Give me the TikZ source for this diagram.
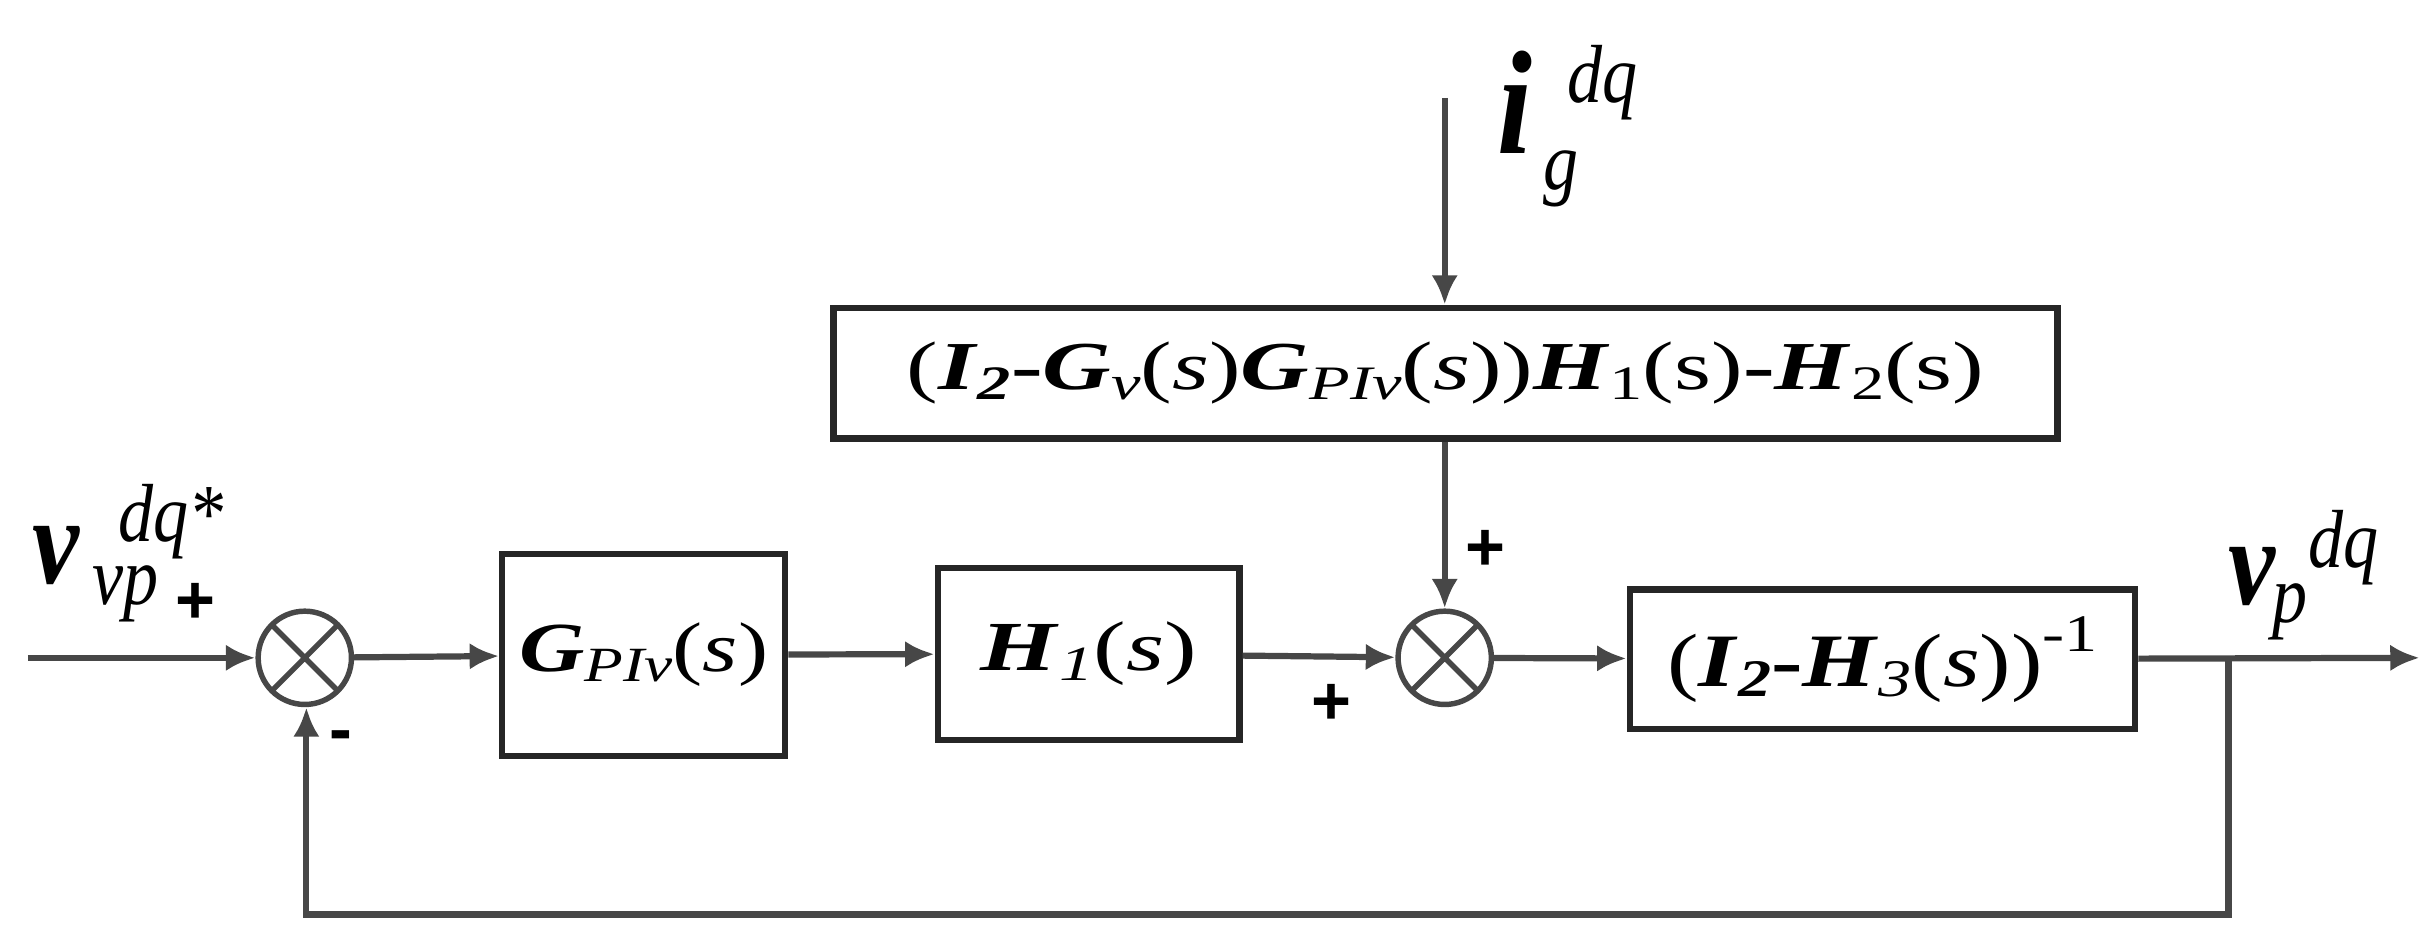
\documentclass[tikz,border=0pt]{standalone}
\usepackage{fontspec}
\setmainfont{Liberation Serif}
\newfontfamily\sansb{Liberation Sans}
\usetikzlibrary{arrows.meta}
\newcommand\lo[1]{\raisebox{-0.3ex}{\fontsize{28}{30}\selectfont #1}}
\newcommand\hi[1]{\raisebox{1.0ex}{\fontsize{28}{30}\selectfont #1}}
\newcommand\bi[1]{\textbf{\textit{#1}}}
\newcommand\nar[1]{\scalebox{0.85}[1]{#1}}
\begin{document}
\begin{tikzpicture}[x=1pt,y=-1pt,
  ln/.style={draw=black!72,line width=4pt},
  arr/.style={ln,-{Latex[length=19pt,width=17pt]}},
  blk/.style={draw=black!85,line width=4pt,inner sep=0pt,font=\fontsize{40}{44}\selectfont},
  sumnode/.style={circle,draw=black!72,line width=3.5pt,minimum size=60pt,inner sep=0pt,
    path picture={\draw[line width=3.5pt,black!72] ([shift={(-4,-4)}]path picture bounding box.center)++(-18,-18)--++(44,44) ([shift={(4,-4)}]path picture bounding box.center)++(18,-18)--++(-44,44);}},
  sgn/.style={font=\sansb\bfseries\fontsize{44}{46}\selectfont,inner sep=0pt},
  big/.style={font=\bfseries\itshape\fontsize{80}{82}\selectfont,inner sep=0pt,anchor=base west},
  sm/.style={font=\itshape\fontsize{53}{55}\selectfont,inner sep=0pt,anchor=base west}]
\useasboundingbox (0,0) rectangle (1560,604);
\node[sumnode] (s1) at (196,423) {};
\node[sumnode] (s2) at (929,423) {};
\node[blk,minimum width=182pt,minimum height=130pt] (g) at (414,421) {\resizebox*{160pt}{41pt}{\bi{G}\lo{\textit{PIv}}(\textit{s})}};
\node[blk,minimum width=194pt,minimum height=111pt] (h) at (700,420.5) {\resizebox*{139pt}{41pt}{\bi{H}\lo{\textit{1}}(\textit{s})}};
\node[blk,minimum width=787pt,minimum height=84pt] (bigb) at (929.5,240) {\resizebox*{693pt}{40pt}{(\bi{I}\lo{\bi{2}}\textbf{-}\bi{G}\lo{\textit{v}}(\textit{s})\bi{G}\lo{\textit{PIv}}(\textit{s}))\bi{H}\lo{1}(s)\textbf{-}\bi{H}\lo{2}(s)}};
\node[blk,minimum width=325pt,minimum height=90pt] (f) at (1210.5,424) {\resizebox*{277pt}{55pt}{(\bi{I}\lo{\bi{2}}\textbf{-}\bi{H}\lo{\textit{3}}(\textit{s}))\hi{-1}}};
\coordinate (in) at (18,423);
\coordinate (out) at (1556,423);
\coordinate (br) at (1433,423);
\coordinate (top) at (929,63);
\coordinate (fb) at (197,588);
\draw[arr] (in) -- (s1);
\draw[arr] (s1) -- (g);
\draw[arr] (g) -- (h);
\draw[arr] (h) -- (s2);
\draw[arr] (s2) -- (f);
\draw[arr] (f) -- (out);
\draw[arr] (top) -- (bigb.north -| top);
\draw[arr] (bigb.south -| s2) -- (s2);
\draw[arr] (br) |- (fb) -- (s1.south -| fb);
\node[big] (v1) at (21,375) {\nar{v}};
\node[sm] (v1s) at (59,389) {\nar{vp}};
\node[sm] (v1d) at (76,348) {\nar{dq*}};
\node[big] (v2) at (1433,389) {\nar{v}};
\node[sm] (v2s) at (1461,400) {\nar{p}};
\node[sm] (v2d) at (1484,365) {\nar{dq}};
\node[big,font=\bfseries\itshape\fontsize{95}{97}\selectfont] (ig) at (963,99) {\nar{i}};
\node[sm] (igs) at (992,122) {\nar{g}};
\node[sm] (igd) at (1008,66) {\nar{dq}};
\node[sgn] (p1) at (126,388) {+};
\node[sgn] (m1) at (219,477) {-};
\node[sgn] (p2) at (955,354) {+};
\node[sgn] (p3) at (856,453) {+};
\end{tikzpicture}
\end{document}
